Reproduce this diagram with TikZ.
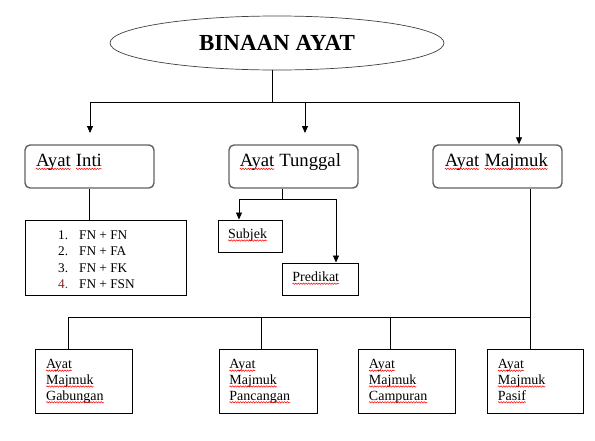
\documentclass[tikz,border=0pt]{standalone}
\usepackage{fontspec}
\setmainfont{Liberation Serif}
\usetikzlibrary{arrows.meta,shapes.geometric,decorations.pathmorphing}
\newcommand\rw[1]{\tikz[baseline=(w.base)]{\node[inner sep=0pt,outer sep=0pt] (w) {#1};
  \draw[red,line width=0.5pt,decorate,decoration={zigzag,amplitude=0.7pt,segment length=2.6pt}]
    ([yshift=-2.2pt]w.base west) -- ([yshift=-2.2pt]w.base east);}}
\begin{document}
\begin{tikzpicture}[x=1pt,y=-1pt,
  line/.style={line width=0.8pt},
  arr/.style={line width=0.8pt,-{Triangle[length=7pt,width=6pt]}},
  rbox/.style={draw=black!62,line width=1.4pt,rounded corners=5pt,minimum width=129pt,minimum height=43pt,inner sep=0pt},
  pbox/.style={draw,line width=0.9pt,inner sep=0pt},
  lbl/.style={inner sep=0pt,anchor=base west},
  big/.style={font=\fontsize{18.7}{22}\selectfont},
  small/.style={font=\fontsize{14}{15.8}\selectfont},
]
\useasboundingbox (0,0) rectangle (595,440);
% root
\node[ellipse,draw=black!75,line width=0.7pt,minimum width=334pt,minimum height=54pt,inner sep=0pt,
      font=\fontsize{23}{26}\selectfont\bfseries] (root) at (277,43) {BINAAN AYAT};
\coordinate (j0) at (272,102);
\coordinate (jl) at (90,102);
\coordinate (jm) at (305,102);
\coordinate (jr) at (519,102);
\draw[line] (root.south -| j0) -- (j0);
\draw[line] (jl) -- (jr);
% level 1
\node[rbox] (inti) at (89.5,166.5) {};
\node[rbox] (tung) at (293.5,166.5) {};
\node[rbox] (maj) at (497.5,166.5) {};
\node[lbl,big] (intit) at (35.7,166.7) {\rw{Ayat} \rw{Inti}};
\node[lbl,big] (tungt) at (239.3,166.7) {\rw{Ayat} Tunggal};
\node[lbl,big] (majt) at (444.3,166.7) {\rw{Ayat} \rw{Majmuk}};
\draw[arr] (jl) -- ++(0,31);
\draw[arr] (jm) -- ++(0,31);
\draw[arr] (jr) -- (jr |- maj.north);
% Ayat Inti list
\node[pbox,minimum width=161pt,minimum height=75pt] (list) at (105.5,257.5) {};
\draw[line] (inti.south) -- (inti.south |- list.north);
\node[lbl,font=\fontsize{13.3}{16.6}\selectfont] (items) at (58,239)
  {\begin{tabular}[t]{@{}r@{\hspace{11pt}}l@{}}1.&FN + FN\\2.&FN + FA\\3.&FN + FK\\{\color[RGB]{130,40,40}4.}&FN + FSN\end{tabular}};
% Ayat Tunggal
\coordinate (t0) at (282,199);
\coordinate (tl) at (239,199);
\coordinate (tr) at (336,199);
\draw[line] (tung.south -| t0) -- (t0);
\draw[line] (tl) -- (tr);
\node[pbox,minimum width=64pt,minimum height=32pt] (subj) at (250,236) {};
\node[pbox,minimum width=76pt,minimum height=32pt] (pred) at (320,279) {};
\draw[arr] (tl) -- (tl |- subj.north);
\draw[arr] (tr) -- (tr |- pred.north);
\node[lbl,small] (subjt) at (227.7,238.3) {\rw{Subjek}};
\node[lbl,small] (predt) at (292,281.5) {\rw{Predikat}};
% Ayat Majmuk
\coordinate (m0) at (530,317);
\coordinate (ml) at (68,317);
\coordinate (m2) at (261,317);
\coordinate (m3) at (390,317);
\draw[line] (maj.south -| m0) -- (m0);
\draw[line] (ml) -- (m0);
\node[pbox,minimum width=97pt,minimum height=64pt] (b1) at (83.5,381) {};
\node[pbox,minimum width=98pt,minimum height=64pt] (b2) at (268,381) {};
\node[pbox,minimum width=97pt,minimum height=64pt] (b3) at (406.5,381) {};
\node[pbox,minimum width=96pt,minimum height=64pt] (b4) at (535,381) {};
\draw[line] (ml) -- (ml |- b1.north);
\draw[line] (m2) -- (m2 |- b2.north);
\draw[line] (m3) -- (m3 |- b3.north);
\draw[line] (m0) -- (m0 |- b4.north);
\node[lbl,small] (b1t) at (45.7,368.5) {\begin{tabular}[t]{@{}l@{}}\rw{Ayat}\\\rw{Majmuk}\\\rw{Gabungan}\end{tabular}};
\node[lbl,small] (b2t) at (229,368.5) {\begin{tabular}[t]{@{}l@{}}\rw{Ayat}\\\rw{Majmuk}\\\rw{Pancangan}\end{tabular}};
\node[lbl,small] (b3t) at (368.5,368.5) {\begin{tabular}[t]{@{}l@{}}\rw{Ayat}\\\rw{Majmuk}\\\rw{Campuran}\end{tabular}};
\node[lbl,small] (b4t) at (497.5,368.5) {\begin{tabular}[t]{@{}l@{}}\rw{Ayat}\\\rw{Majmuk}\\\rw{Pasif}\end{tabular}};
\end{tikzpicture}
\end{document}
